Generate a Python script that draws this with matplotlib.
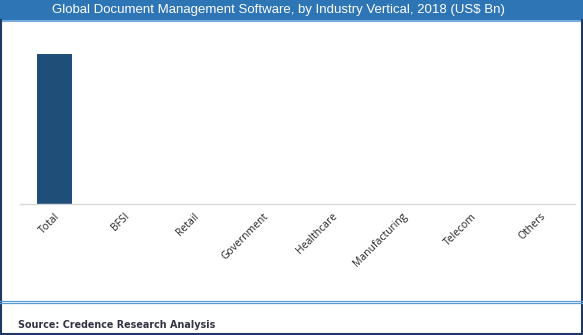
import matplotlib
matplotlib.use('agg')
import matplotlib.pyplot as plt
from matplotlib.patches import Rectangle
from matplotlib.lines import Line2D

# data
categories = ['Total', 'BFSI', 'Retail', 'Government', 'Healthcare',
              'Manufacturing', 'Telecom', 'Others']
values = [5.5, 0, 0, 0, 0, 0, 0, 0]

title = 'Global Document Management Software, by Industry Vertical, 2018 (US$ Bn)'
source = 'Source: Credence Research Analysis'

W, H = 583, 335
fig = plt.figure(figsize=(W / 100, H / 100), dpi=100)


def fx(px):
    return px / W


def fy(py):
    return 1 - py / H


# header band
fig.patches.append(Rectangle((0, fy(20)), 1, 20 / H, transform=fig.transFigure,
                             facecolor='#2E75B6', edgecolor='none', zorder=0))
fig.lines.append(Line2D([0, 1], [fy(20.5), fy(20.5)], transform=fig.transFigure,
                        color='#5B9BD5', lw=1.2))
fig.text(fx(278), fy(10.5), title, color='white', fontsize=9.5,
         family='Liberation Sans', ha='center', va='center')

# outer border
for xs, ys in [([fx(0.8), fx(0.8)], [fy(20), fy(334)]),
               ([fx(581.5), fx(581.5)], [fy(20), fy(334)]),
               ([0, 1], [fy(334), fy(334)])]:
    fig.lines.append(Line2D(xs, ys, transform=fig.transFigure, color='#1F3864', lw=1.5))

# double line above source
for py in (300.5, 302.7):
    fig.lines.append(Line2D([0, 1], [fy(py), fy(py)], transform=fig.transFigure,
                            color='#5B9BD5', lw=0.9))

fig.text(fx(18), fy(325), source, color='#333344', fontsize=6.9,
         family='DejaVu Sans', weight='bold', ha='left', va='center')

# chart area
ax = fig.add_axes([fx(20), fy(204), fx(575) - fx(20), (204 - 30) / H])
x = range(len(categories))
ax.bar(x, values, width=0.5, color='#1F4E79')
ax.set_xlim(-0.5, len(categories) - 0.5)
ax.set_ylim(0, values[0] * 174 / 150)
ax.set_xticks(list(x))
ax.set_xticklabels(categories, rotation=45, ha='right', rotation_mode='anchor',
                   fontsize=7.5, family='Open Sans', color='#222222')
ax.tick_params(axis='x', length=0, pad=5)
ax.set_yticks([])
for s in ['top', 'right', 'left']:
    ax.spines[s].set_visible(False)
ax.spines['bottom'].set_color('#D9D9D9')
ax.spines['bottom'].set_linewidth(1)

plt.savefig('out.png', dpi=100)
plt.close()
